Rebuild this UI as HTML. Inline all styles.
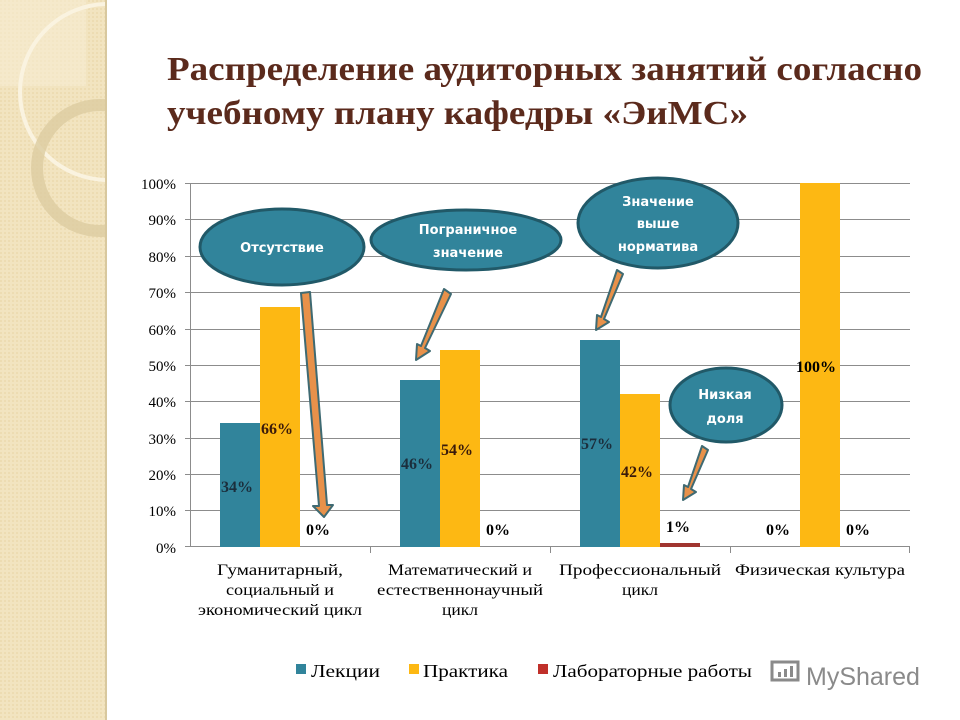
<!DOCTYPE html>
<html><head><meta charset="utf-8"><style>
html,body{margin:0;padding:0;width:960px;height:720px;overflow:hidden;background:#fff}
svg{display:block}
text{font-family:"Liberation Serif",serif}
.s{font-family:"DejaVu Sans",sans-serif}
.m{font-family:"Liberation Sans",sans-serif}
</style></head><body>
<svg width="960" height="720" xmlns="http://www.w3.org/2000/svg">
<defs>
<pattern id="p" width="4" height="4" patternUnits="userSpaceOnUse"><rect width="4" height="4" fill="#f2e4c0"/><rect width="2" height="2" fill="#eddcb2"/></pattern>
<clipPath id="c"><rect x="0" y="0" width="105" height="720"/></clipPath>
</defs>
<rect x="0" y="0" width="106" height="720" fill="url(#p)"/>
<g clip-path="url(#c)">
<rect x="0" y="0" width="86" height="86" fill="#f6ecd2" opacity="0.6"/>
<circle cx="108" cy="92" r="88" fill="none" stroke="#faf3e0" stroke-width="4"/>
<circle cx="100" cy="168" r="63" fill="none" stroke="#dccca0" stroke-width="12" opacity="0.8"/>
</g>
<line x1="106" y1="0" x2="106" y2="720" stroke="#d8c89e" stroke-width="2"/>
<g fill="#5b2a1c" font-weight="bold" font-size="34">
<text x="167" y="80" textLength="755" lengthAdjust="spacingAndGlyphs">Распределение аудиторных занятий согласно</text>
<text x="167" y="124" textLength="581" lengthAdjust="spacingAndGlyphs">учебному плану кафедры «ЭиМС»</text>
</g>
<g stroke="#8c8c8c" stroke-width="1">
<line x1="185" y1="183.5" x2="910" y2="183.5"/>
<line x1="185" y1="219.5" x2="910" y2="219.5"/>
<line x1="185" y1="256.5" x2="910" y2="256.5"/>
<line x1="185" y1="292.5" x2="910" y2="292.5"/>
<line x1="185" y1="329.5" x2="910" y2="329.5"/>
<line x1="185" y1="365.5" x2="910" y2="365.5"/>
<line x1="185" y1="401.5" x2="910" y2="401.5"/>
<line x1="185" y1="438.5" x2="910" y2="438.5"/>
<line x1="185" y1="474.5" x2="910" y2="474.5"/>
<line x1="185" y1="510.5" x2="910" y2="510.5"/>
<line x1="185" y1="546.5" x2="910" y2="546.5"/>
<line x1="190.5" y1="183" x2="190.5" y2="547"/>
<line x1="370.5" y1="547" x2="370.5" y2="553"/>
<line x1="550.5" y1="547" x2="550.5" y2="553"/>
<line x1="730.5" y1="547" x2="730.5" y2="553"/>
<line x1="909.5" y1="547" x2="909.5" y2="553"/>
</g>
<g font-size="15" text-anchor="end" fill="#000">
<text x="176" y="189">100%</text><text x="176" y="225">90%</text><text x="176" y="262">80%</text>
<text x="176" y="298">70%</text><text x="176" y="335">60%</text><text x="176" y="371">50%</text>
<text x="176" y="407">40%</text><text x="176" y="444">30%</text><text x="176" y="480">20%</text>
<text x="176" y="516">10%</text><text x="176" y="553">0%</text>
</g>
<g>
<rect x="220" y="423" width="40" height="124" fill="#31849b"/>
<rect x="260" y="307" width="40" height="240" fill="#fdb813"/>
<rect x="400" y="380" width="40" height="167" fill="#31849b"/>
<rect x="440" y="350" width="40" height="197" fill="#fdb813"/>
<rect x="580" y="340" width="40" height="207" fill="#31849b"/>
<rect x="620" y="394" width="40" height="153" fill="#fdb813"/>
<rect x="660" y="543" width="40" height="4" fill="#a0352f"/>
<rect x="800" y="183" width="40" height="364" fill="#fdb813"/>
</g>
<g font-size="16" font-weight="bold">
<text x="221" y="492" fill="#1b2e3c">34%</text>
<text x="261" y="434" fill="#3a1a0a">66%</text>
<text x="306" y="535" fill="#000">0%</text>
<text x="401" y="469" fill="#1b2e3c">46%</text>
<text x="441" y="455" fill="#3a1a0a">54%</text>
<text x="486" y="535" fill="#000">0%</text>
<text x="581" y="449" fill="#1b2e3c">57%</text>
<text x="621" y="477" fill="#3a1a0a">42%</text>
<text x="666" y="532" fill="#000">1%</text>
<text x="766" y="535" fill="#000">0%</text>
<text x="796" y="372" fill="#000">100%</text>
<text x="846" y="535" fill="#000">0%</text>
</g>
<g font-size="16" text-anchor="middle" fill="#000">
<text x="280" y="575" textLength="126" lengthAdjust="spacingAndGlyphs">Гуманитарный,</text>
<text x="280" y="595" textLength="108" lengthAdjust="spacingAndGlyphs">социальный и</text>
<text x="280" y="615" textLength="164" lengthAdjust="spacingAndGlyphs">экономический цикл</text>
<text x="460" y="575" textLength="144" lengthAdjust="spacingAndGlyphs">Математический и</text>
<text x="460" y="595" textLength="166" lengthAdjust="spacingAndGlyphs">естественнонаучный</text>
<text x="460" y="615" textLength="36" lengthAdjust="spacingAndGlyphs">цикл</text>
<text x="640" y="575" textLength="162" lengthAdjust="spacingAndGlyphs">Профессиональный</text>
<text x="640" y="595" textLength="36" lengthAdjust="spacingAndGlyphs">цикл</text>
<text x="820" y="575" textLength="170" lengthAdjust="spacingAndGlyphs">Физическая культура</text>
</g>
<g font-size="18" fill="#000">
<rect x="296" y="664" width="10" height="10" fill="#31849b"/><text x="311" y="677" textLength="69" lengthAdjust="spacingAndGlyphs">Лекции</text>
<rect x="409" y="664" width="10" height="10" fill="#fdb813"/><text x="423" y="677" textLength="85" lengthAdjust="spacingAndGlyphs">Практика</text>
<rect x="538" y="664" width="10" height="10" fill="#c0302a"/><text x="553" y="677" textLength="199" lengthAdjust="spacingAndGlyphs">Лабораторные работы</text>
</g>
<g fill="#8a8a8a">
<rect x="772" y="662" width="26" height="18" fill="none" stroke="#8a8a8a" stroke-width="3"/>
<rect x="778" y="672" width="3" height="5"/><rect x="784" y="669" width="3" height="8"/><rect x="790" y="666" width="3" height="11"/>
<text class="m" x="806" y="685" font-size="25">MyShared</text>
</g>
<g stroke="#3f6a72" stroke-width="2" fill="#e8914a" stroke-linejoin="round">
<polygon points="301,293 310,292 327,505 333,505 324,517 313,506 319,506"/>
<polygon points="444,289 451,294 425,348 430,351 416,360 417,344 421,346"/>
<polygon points="617,270 623,274 604,319 609,322 596,330 597,315 601,317"/>
<polygon points="702,446 708,450 691,489 696,492 683,500 684,485 688,487"/>
</g>
<g fill="#31849b" stroke="#215968" stroke-width="3">
<ellipse cx="282" cy="247" rx="82" ry="38"/>
<ellipse cx="466" cy="240" rx="95" ry="30"/>
<ellipse cx="658" cy="223" rx="80" ry="45"/>
<ellipse cx="726" cy="405" rx="56" ry="37"/>
</g>
<g fill="#fff" font-weight="bold" font-size="13" text-anchor="middle">
<text class="s" x="282" y="252">Отсутствие</text>
<text class="s" x="468" y="234">Пограничное</text>
<text class="s" x="468" y="257">значение</text>
<text class="s" x="658" y="206">Значение</text>
<text class="s" x="658" y="228">выше</text>
<text class="s" x="658" y="251">норматива</text>
<text class="s" x="725" y="399">Низкая</text>
<text class="s" x="725" y="423">доля</text>
</g>
</svg>
</body></html>
